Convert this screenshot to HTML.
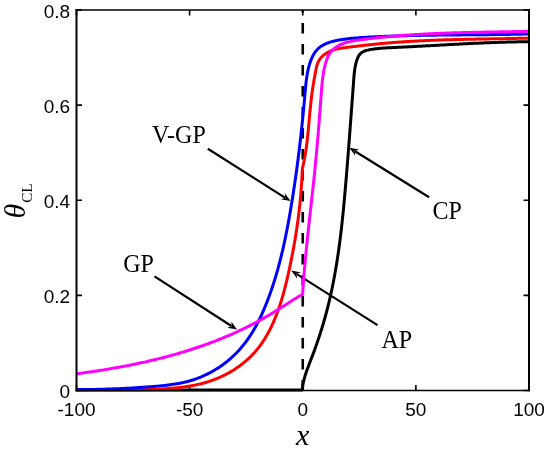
<!DOCTYPE html>
<html><head><meta charset="utf-8"><title>plot</title>
<style>html,body{margin:0;padding:0;background:#fff;width:550px;height:455px;overflow:hidden}svg{display:block}</style>
</head><body>
<svg width="550" height="455" viewBox="0 0 550 455">
<rect width="550" height="455" fill="#fff"/>
<path d="M76.50 390.50 V385.00 M76.50 10.00 V15.50 M189.62 390.50 V385.00 M189.62 10.00 V15.50 M302.75 390.50 V385.00 M302.75 10.00 V15.50 M415.88 390.50 V385.00 M415.88 10.00 V15.50 M529.00 390.50 V385.00 M529.00 10.00 V15.50 M76.50 390.50 H82.00 M529.00 390.50 H523.50 M76.50 295.38 H82.00 M529.00 295.38 H523.50 M76.50 200.25 H82.00 M529.00 200.25 H523.50 M76.50 105.13 H82.00 M529.00 105.13 H523.50 M76.50 10.00 H82.00 M529.00 10.00 H523.50" stroke="#000" stroke-width="1.6" fill="none"/>
<line x1="302.75" y1="390.50" x2="302.75" y2="10.00" stroke="#000" stroke-width="2.6" stroke-dasharray="10.5 10.5"/>
<line x1="207.80" y1="148.70" x2="284.92" y2="197.57" stroke="#000" stroke-width="2.2"/><path d="M290.50 201.10 L280.75 199.30 L285.35 197.84 L284.71 193.05 Z" fill="#000"/>
<line x1="154.50" y1="276.40" x2="231.45" y2="326.02" stroke="#000" stroke-width="2.2"/><path d="M237.00 329.60 L227.26 327.72 L231.87 326.29 L231.27 321.50 Z" fill="#000"/>
<line x1="377.50" y1="325.10" x2="296.88" y2="274.13" stroke="#000" stroke-width="2.2"/><path d="M291.30 270.60 L301.05 272.39 L296.46 273.86 L297.10 278.64 Z" fill="#000"/>
<line x1="429.10" y1="197.30" x2="355.01" y2="151.28" stroke="#000" stroke-width="2.2"/><path d="M349.40 147.80 L359.17 149.51 L354.58 151.02 L355.26 155.80 Z" fill="#000"/>
<g fill="none" stroke-width="3.0" stroke-linejoin="round" stroke-linecap="butt">
<path d="M76.50 389.90 H302.80" stroke="#000"/>
<path d="M302.30 390.29 L302.39 389.08 L302.50 387.86 L302.64 386.65 L302.82 385.43 L303.02 384.22 L303.25 383.00 L303.51 381.79 L303.79 380.57 L304.09 379.35 L304.41 378.14 L304.76 376.92 L305.12 375.70 L305.50 374.48 L305.89 373.26 L306.30 372.04 L306.72 370.82 L307.15 369.59 L307.60 368.37 L308.05 367.15 L308.51 365.92 L308.97 364.70 L309.44 363.47 L309.92 362.25 L310.39 361.02 L310.87 359.79 L311.34 358.57 L311.81 357.34 L312.28 356.11 L312.75 354.88 L313.21 353.65 L313.66 352.42 L314.12 351.19 L314.57 349.96 L315.02 348.73 L315.46 347.49 L315.90 346.26 L316.33 345.03 L316.77 343.79 L317.19 342.56 L317.62 341.32 L318.04 340.09 L318.46 338.85 L318.87 337.61 L319.28 336.38 L319.68 335.14 L320.08 333.90 L320.48 332.66 L320.87 331.42 L321.26 330.18 L321.65 328.94 L322.03 327.70 L322.41 326.46 L322.78 325.22 L323.15 323.97 L323.52 322.73 L323.88 321.49 L324.24 320.24 L324.59 319.00 L324.94 317.75 L325.29 316.51 L325.63 315.26 L325.97 314.02 L326.30 312.77 L326.63 311.52 L326.95 310.27 L327.28 309.02 L327.59 307.77 L327.91 306.52 L328.22 305.27 L328.53 304.02 L328.83 302.77 L329.13 301.52 L329.42 300.27 L329.72 299.02 L330.01 297.76 L330.29 296.51 L330.57 295.26 L330.85 294.00 L331.13 292.75 L331.40 291.49 L331.67 290.24 L331.93 288.98 L332.19 287.73 L332.45 286.47 L332.71 285.21 L332.96 283.95 L333.21 282.69 L333.46 281.44 L333.70 280.18 L333.94 278.92 L334.18 277.66 L334.41 276.40 L334.64 275.14 L334.87 273.87 L335.09 272.61 L335.32 271.35 L335.54 270.09 L335.75 268.83 L335.97 267.56 L336.18 266.30 L336.39 265.03 L336.59 263.77 L336.80 262.50 L337.00 261.24 L337.20 259.97 L337.39 258.71 L337.59 257.44 L337.78 256.17 L337.97 254.91 L338.15 253.64 L338.34 252.37 L338.52 251.10 L338.70 249.83 L338.88 248.56 L339.05 247.29 L339.23 246.02 L339.40 244.75 L339.57 243.48 L339.73 242.21 L339.90 240.94 L340.06 239.67 L340.22 238.40 L340.38 237.12 L340.54 235.85 L340.69 234.58 L340.85 233.30 L341.00 232.03 L341.15 230.76 L341.30 229.48 L341.44 228.21 L341.59 226.93 L341.73 225.66 L341.87 224.38 L342.01 223.10 L342.15 221.83 L342.29 220.55 L342.42 219.27 L342.56 218.00 L342.69 216.72 L342.82 215.44 L342.95 214.16 L343.08 212.88 L343.21 211.60 L343.34 210.32 L343.46 209.04 L343.59 207.76 L343.71 206.48 L343.83 205.20 L343.95 203.92 L344.07 202.64 L344.19 201.36 L344.31 200.08 L344.43 198.79 L344.54 197.51 L344.66 196.23 L344.77 194.95 L344.89 193.66 L345.00 192.38 L345.11 191.10 L345.22 189.81 L345.33 188.53 L345.44 187.24 L345.55 185.96 L345.66 184.67 L345.77 183.39 L345.88 182.10 L345.99 180.82 L346.10 179.53 L346.20 178.24 L346.31 176.96 L346.42 175.67 L346.52 174.38 L346.63 173.10 L346.73 171.81 L346.84 170.52 L346.94 169.23 L347.05 167.94 L347.15 166.66 L347.26 165.37 L347.36 164.08 L347.46 162.79 L347.56 161.50 L347.67 160.21 L347.77 158.92 L347.87 157.63 L347.97 156.35 L348.07 155.06 L348.17 153.77 L348.28 152.48 L348.38 151.19 L348.48 149.90 L348.58 148.61 L348.68 147.32 L348.78 146.03 L348.87 144.74 L348.97 143.45 L349.07 142.16 L349.17 140.87 L349.27 139.58 L349.37 138.29 L349.47 137.00 L349.56 135.71 L349.66 134.43 L349.76 133.14 L349.86 131.85 L349.95 130.56 L350.05 129.27 L350.15 127.98 L350.24 126.69 L350.34 125.40 L350.44 124.12 L350.53 122.83 L350.63 121.54 L350.72 120.25 L350.82 118.97 L350.92 117.68 L351.01 116.39 L351.11 115.10 L351.20 113.82 L351.30 112.53 L351.39 111.25 L351.49 109.96 L351.58 108.67 L351.68 107.39 L351.77 106.10 L351.87 104.82 L351.96 103.53 L352.06 102.25 L352.15 100.97 L352.25 99.68 L352.34 98.40 L352.44 97.12 L352.53 95.84 L352.62 94.55 L352.72 93.27 L352.81 91.99 L352.91 90.71 L353.00 89.43 L353.10 88.15 L353.19 86.87 L353.29 85.59 L353.38 84.31 L353.48 83.03 L353.57 81.76 L353.67 80.48 L353.76 79.20 L353.86 77.93 L353.96 76.65 L354.07 75.37 L354.19 74.10 L354.32 72.82 L354.46 71.54 L354.62 70.26 L354.81 68.98 L355.01 67.69 L355.25 66.41 L355.51 65.12 L355.80 63.83 L356.13 62.53 L356.49 61.24 L356.90 59.95 L357.36 58.69 L357.87 57.48 L358.45 56.32 L359.10 55.25 L359.83 54.27 L360.64 53.40 L361.53 52.64 L362.50 52.00 L363.53 51.46 L364.61 51.03 L365.73 50.67 L366.88 50.36 L368.06 50.09 L369.25 49.84 L370.45 49.60 L371.67 49.39 L372.90 49.19 L374.15 49.01 L375.40 48.84 L376.67 48.69 L377.94 48.55 L379.22 48.42 L380.51 48.31 L381.81 48.20 L383.12 48.10 L384.43 48.01 L385.74 47.93 L387.06 47.85 L388.38 47.78 L389.70 47.71 L391.03 47.65 L392.35 47.59 L393.68 47.53 L395.00 47.47 L396.32 47.41 L397.64 47.34 L398.96 47.28 L400.28 47.22 L401.59 47.16 L402.90 47.09 L404.22 47.03 L405.53 46.96 L406.84 46.90 L408.14 46.83 L409.45 46.76 L410.75 46.70 L412.06 46.63 L413.36 46.56 L414.66 46.49 L415.96 46.43 L417.25 46.36 L418.55 46.29 L419.84 46.22 L421.14 46.15 L422.43 46.08 L423.72 46.01 L425.01 45.94 L426.30 45.87 L427.59 45.80 L428.88 45.73 L430.17 45.66 L431.45 45.59 L432.74 45.52 L434.02 45.45 L435.30 45.38 L436.59 45.31 L437.87 45.24 L439.15 45.17 L440.43 45.10 L441.71 45.03 L442.99 44.96 L444.27 44.89 L445.55 44.82 L446.82 44.75 L448.10 44.68 L449.38 44.61 L450.65 44.54 L451.93 44.47 L453.20 44.41 L454.48 44.34 L455.75 44.27 L457.03 44.20 L458.30 44.14 L459.58 44.07 L460.85 44.00 L462.12 43.94 L463.40 43.87 L464.67 43.81 L465.94 43.75 L467.22 43.68 L468.49 43.62 L469.76 43.56 L471.04 43.50 L472.31 43.43 L473.59 43.37 L474.86 43.31 L476.14 43.26 L477.41 43.20 L478.69 43.14 L479.96 43.08 L481.24 43.03 L482.51 42.97 L483.79 42.92 L485.07 42.86 L486.34 42.81 L487.62 42.76 L488.90 42.71 L490.18 42.66 L491.46 42.61 L492.74 42.56 L494.02 42.51 L495.30 42.47 L496.59 42.42 L497.87 42.38 L499.16 42.34 L500.44 42.29 L501.73 42.25 L503.01 42.21 L504.30 42.18 L505.59 42.14 L506.88 42.10 L508.17 42.07 L509.46 42.04 L510.76 42.00 L512.05 41.97 L513.35 41.94 L514.65 41.92 L515.94 41.89 L517.24 41.86 L518.54 41.84 L519.85 41.82 L521.15 41.80 L522.45 41.78 L523.76 41.76 L525.07 41.74 L526.38 41.73 L527.69 41.71 L529.00 41.70" stroke="#000"/>
<path d="M76.50 390.20 L77.41 390.17 L78.32 390.13 L79.23 390.10 L80.14 390.07 L81.05 390.04 L81.97 390.01 L82.89 389.99 L83.81 389.96 L84.73 389.94 L85.65 389.92 L86.57 389.90 L87.50 389.88 L88.43 389.86 L89.36 389.85 L90.29 389.84 L91.22 389.82 L92.15 389.81 L93.09 389.80 L94.03 389.79 L94.96 389.78 L95.90 389.77 L96.85 389.77 L97.79 389.76 L98.73 389.75 L99.68 389.75 L100.62 389.75 L101.57 389.74 L102.52 389.74 L103.47 389.74 L104.42 389.74 L105.37 389.74 L106.33 389.74 L107.28 389.74 L108.23 389.74 L109.19 389.74 L110.15 389.74 L111.11 389.74 L112.07 389.74 L113.03 389.74 L113.99 389.74 L114.95 389.75 L115.91 389.75 L116.87 389.75 L117.84 389.75 L118.80 389.75 L119.77 389.75 L120.73 389.75 L121.70 389.75 L122.67 389.75 L123.63 389.75 L124.60 389.75 L125.57 389.75 L126.54 389.75 L127.51 389.75 L128.48 389.75 L129.45 389.74 L130.42 389.74 L131.39 389.73 L132.36 389.73 L133.34 389.72 L134.31 389.71 L135.28 389.70 L136.25 389.69 L137.22 389.68 L138.20 389.67 L139.17 389.66 L140.14 389.65 L141.12 389.63 L142.09 389.61 L143.06 389.60 L144.03 389.58 L145.01 389.56 L145.98 389.53 L146.95 389.51 L147.92 389.49 L148.90 389.46 L149.87 389.43 L150.84 389.40 L151.81 389.37 L152.78 389.33 L153.75 389.30 L154.72 389.26 L155.69 389.22 L156.66 389.18 L157.63 389.14 L158.60 389.09 L159.57 389.04 L160.53 388.99 L161.50 388.94 L162.47 388.89 L163.43 388.83 L164.40 388.77 L165.36 388.71 L166.32 388.65 L167.29 388.58 L168.25 388.51 L169.21 388.44 L170.17 388.37 L171.13 388.29 L172.09 388.21 L173.05 388.13 L174.00 388.04 L174.96 387.96 L175.91 387.86 L176.87 387.77 L177.82 387.67 L178.77 387.57 L179.72 387.46 L180.67 387.35 L181.62 387.24 L182.56 387.12 L183.51 386.99 L184.45 386.87 L185.40 386.74 L186.34 386.60 L187.28 386.46 L188.22 386.31 L189.16 386.16 L190.09 386.01 L191.03 385.84 L191.96 385.68 L192.89 385.51 L193.82 385.33 L194.75 385.14 L195.68 384.96 L196.60 384.76 L197.52 384.56 L198.45 384.35 L199.37 384.14 L200.28 383.92 L201.20 383.69 L202.12 383.46 L203.03 383.22 L203.94 382.97 L204.85 382.72 L205.75 382.46 L206.66 382.19 L207.56 381.91 L208.46 381.63 L209.36 381.34 L210.26 381.04 L211.15 380.73 L212.05 380.42 L212.94 380.10 L213.82 379.77 L214.71 379.43 L215.59 379.09 L216.47 378.74 L217.35 378.38 L218.22 378.01 L219.09 377.64 L219.96 377.25 L220.82 376.87 L221.68 376.47 L222.54 376.07 L223.39 375.66 L224.24 375.24 L225.09 374.81 L225.93 374.38 L226.77 373.94 L227.61 373.49 L228.44 373.04 L229.27 372.58 L230.09 372.11 L230.91 371.63 L231.72 371.15 L232.53 370.66 L233.34 370.16 L234.14 369.65 L234.94 369.14 L235.73 368.62 L236.51 368.09 L237.30 367.56 L238.07 367.02 L238.84 366.47 L239.61 365.92 L240.37 365.36 L241.13 364.79 L241.88 364.21 L242.62 363.63 L243.36 363.04 L244.09 362.44 L244.82 361.84 L245.54 361.23 L246.26 360.61 L246.97 359.99 L247.67 359.36 L248.37 358.72 L249.06 358.08 L249.74 357.42 L250.42 356.77 L251.09 356.10 L251.76 355.43 L252.41 354.75 L253.06 354.07 L253.71 353.37 L254.35 352.68 L254.97 351.97 L255.60 351.26 L256.21 350.54 L256.82 349.82 L257.42 349.08 L258.01 348.35 L258.60 347.60 L259.18 346.85 L259.75 346.09 L260.31 345.33 L260.87 344.56 L261.42 343.79 L261.96 343.01 L262.50 342.22 L263.02 341.43 L263.55 340.64 L264.06 339.84 L264.57 339.03 L265.07 338.22 L265.57 337.41 L266.06 336.59 L266.54 335.76 L267.02 334.93 L267.49 334.10 L267.95 333.26 L268.41 332.42 L268.86 331.58 L269.31 330.73 L269.75 329.88 L270.19 329.03 L270.61 328.17 L271.04 327.31 L271.45 326.44 L271.87 325.57 L272.27 324.70 L272.67 323.83 L273.07 322.96 L273.46 322.08 L273.84 321.20 L274.22 320.32 L274.60 319.43 L274.96 318.55 L275.33 317.66 L275.69 316.77 L276.04 315.88 L276.39 314.99 L276.74 314.09 L277.08 313.20 L277.41 312.30 L277.74 311.40 L278.07 310.50 L278.39 309.59 L278.71 308.69 L279.02 307.78 L279.33 306.88 L279.64 305.97 L279.94 305.06 L280.24 304.15 L280.53 303.23 L280.82 302.32 L281.11 301.40 L281.39 300.49 L281.67 299.57 L281.95 298.65 L282.22 297.73 L282.49 296.81 L282.75 295.89 L283.02 294.97 L283.28 294.04 L283.53 293.12 L283.79 292.20 L284.04 291.27 L284.28 290.34 L284.53 289.42 L284.77 288.49 L285.01 287.56 L285.25 286.63 L285.48 285.70 L285.71 284.77 L285.94 283.84 L286.17 282.91 L286.40 281.97 L286.62 281.04 L286.84 280.11 L287.06 279.18 L287.28 278.24 L287.49 277.31 L287.71 276.38 L287.92 275.44 L288.13 274.51 L288.34 273.58 L288.55 272.64 L288.75 271.71 L288.96 270.77 L289.16 269.84 L289.36 268.91 L289.56 267.97 L289.76 267.04 L289.96 266.11 L290.16 265.17 L290.35 264.24 L290.55 263.30 L290.74 262.37 L290.93 261.44 L291.12 260.50 L291.31 259.57 L291.50 258.64 L291.69 257.70 L291.87 256.77 L292.05 255.83 L292.24 254.90 L292.42 253.97 L292.60 253.03 L292.77 252.10 L292.95 251.16 L293.13 250.23 L293.30 249.29 L293.47 248.36 L293.64 247.42 L293.81 246.49 L293.98 245.56 L294.15 244.62 L294.31 243.69 L294.47 242.75 L294.64 241.81 L294.80 240.88 L294.96 239.94 L295.11 239.01 L295.27 238.07 L295.42 237.14 L295.58 236.20 L295.73 235.26 L295.88 234.33 L296.03 233.39 L296.17 232.45 L296.32 231.52 L296.46 230.58 L296.61 229.64 L296.75 228.70 L296.89 227.77 L297.02 226.83 L297.16 225.89 L297.30 224.95 L297.43 224.01 L297.56 223.07 L297.69 222.13 L297.82 221.20 L297.95 220.26 L298.07 219.32 L298.20 218.38 L298.32 217.44 L298.44 216.49 L298.56 215.55 L298.67 214.61 L298.79 213.67 L298.90 212.73 L299.02 211.79 L299.13 210.84 L299.24 209.90 L299.34 208.96 L299.45 208.02 L299.55 207.07 L299.66 206.13 L299.76 205.18 L299.86 204.24 L299.96 203.29 L300.05 202.35 L300.15 201.40 L300.24 200.46 L300.33 199.51 L300.42 198.56 L300.50 197.62 L300.59 196.67 L300.67 195.72 L300.76 194.77 L300.84 193.82 L300.92 192.87 L300.99 191.92 L301.07 190.97 L301.14 190.02 L301.21 189.07 L301.28 188.12 L301.35 187.17 L301.42 186.22 L301.48 185.27 L301.54 184.31 L301.61 183.36 L301.67 182.41 L301.72 181.45 L301.78 180.50 L301.83 179.54 L301.88 178.59 L301.93 177.63 L301.98 176.67 L302.03 175.71 L302.07 174.76 L302.12 173.80 L302.16 172.84 L302.20 171.88 L302.23 170.92 L302.27 169.96 L302.30 169.00 L302.30 169.00 L302.50 168.19 L302.69 167.39 L302.87 166.58 L303.05 165.77 L303.23 164.96 L303.41 164.16 L303.58 163.35 L303.75 162.55 L303.91 161.74 L304.07 160.94 L304.23 160.14 L304.38 159.33 L304.53 158.53 L304.68 157.73 L304.82 156.93 L304.96 156.12 L305.10 155.32 L305.23 154.52 L305.36 153.72 L305.49 152.92 L305.62 152.12 L305.74 151.32 L305.86 150.52 L305.98 149.72 L306.10 148.92 L306.21 148.12 L306.32 147.32 L306.43 146.52 L306.53 145.72 L306.64 144.92 L306.74 144.12 L306.84 143.32 L306.94 142.53 L307.04 141.73 L307.13 140.93 L307.22 140.13 L307.31 139.33 L307.40 138.53 L307.49 137.73 L307.58 136.93 L307.66 136.13 L307.75 135.33 L307.83 134.53 L307.91 133.74 L307.99 132.94 L308.07 132.14 L308.15 131.34 L308.23 130.53 L308.30 129.73 L308.38 128.93 L308.45 128.13 L308.53 127.33 L308.60 126.53 L308.68 125.73 L308.75 124.93 L308.82 124.12 L308.90 123.32 L308.97 122.52 L309.04 121.71 L309.11 120.91 L309.18 120.10 L309.26 119.30 L309.33 118.49 L309.40 117.69 L309.47 116.88 L309.55 116.07 L309.62 115.27 L309.70 114.46 L309.77 113.65 L309.85 112.84 L309.92 112.03 L310.00 111.22 L310.08 110.41 L310.16 109.60 L310.23 108.78 L310.32 107.97 L310.40 107.16 L310.48 106.34 L310.56 105.53 L310.65 104.71 L310.74 103.89 L310.82 103.08 L310.91 102.26 L311.01 101.44 L311.10 100.62 L311.19 99.80 L311.29 98.97 L311.39 98.15 L311.49 97.33 L311.59 96.50 L311.70 95.68 L311.80 94.85 L311.91 94.02 L312.02 93.20 L312.14 92.37 L312.25 91.54 L312.37 90.71 L312.49 89.88 L312.61 89.05 L312.73 88.22 L312.86 87.39 L312.98 86.57 L313.11 85.74 L313.24 84.91 L313.37 84.09 L313.51 83.27 L313.64 82.45 L313.78 81.63 L313.91 80.81 L314.05 79.99 L314.19 79.18 L314.33 78.37 L314.48 77.57 L314.62 76.76 L314.77 75.96 L314.91 75.16 L315.06 74.37 L315.21 73.58 L315.36 72.79 L315.51 72.01 L315.66 71.23 L315.81 70.46 L315.96 69.69 L316.11 68.93 L316.27 68.17 L316.43 67.41 L316.61 66.66 L316.80 65.92 L317.00 65.18 L317.23 64.45 L317.47 63.73 L317.75 63.01 L318.05 62.30 L318.38 61.59 L318.75 60.89 L319.16 60.20 L319.61 59.52 L320.09 58.85 L320.61 58.19 L321.16 57.55 L321.73 56.93 L322.33 56.32 L322.96 55.74 L323.61 55.19 L324.27 54.66 L324.95 54.16 L325.65 53.68 L326.35 53.22 L327.07 52.79 L327.79 52.39 L328.52 52.00 L329.25 51.64 L329.98 51.30 L330.72 50.98 L331.46 50.68 L332.20 50.40 L332.94 50.14 L333.69 49.90 L334.44 49.67 L335.20 49.46 L335.95 49.26 L336.71 49.07 L337.47 48.89 L338.23 48.73 L339.00 48.58 L339.77 48.44 L340.54 48.30 L341.31 48.18 L342.09 48.05 L342.87 47.94 L343.65 47.83 L344.43 47.72 L345.21 47.62 L346.00 47.52 L346.79 47.42 L347.58 47.32 L348.37 47.22 L349.16 47.12 L349.96 47.02 L350.75 46.92 L351.55 46.82 L352.35 46.72 L353.16 46.63 L353.96 46.53 L354.77 46.43 L355.57 46.33 L356.38 46.24 L357.19 46.14 L358.00 46.04 L358.81 45.95 L359.62 45.85 L360.44 45.76 L361.25 45.67 L362.07 45.57 L362.89 45.48 L363.70 45.39 L364.52 45.29 L365.34 45.20 L366.16 45.11 L366.98 45.02 L367.81 44.93 L368.63 44.84 L369.45 44.76 L370.27 44.67 L371.10 44.58 L371.92 44.49 L372.75 44.41 L373.57 44.32 L374.40 44.24 L375.22 44.16 L376.05 44.07 L376.87 43.99 L377.70 43.91 L378.52 43.83 L379.35 43.75 L380.18 43.67 L381.00 43.59 L381.83 43.52 L382.65 43.44 L383.48 43.37 L384.30 43.29 L385.12 43.22 L385.95 43.15 L386.77 43.07 L387.59 43.00 L388.42 42.93 L389.24 42.86 L390.06 42.80 L390.88 42.73 L391.70 42.66 L392.52 42.60 L393.34 42.53 L394.16 42.47 L394.98 42.41 L395.80 42.34 L396.62 42.28 L397.44 42.22 L398.26 42.16 L399.07 42.10 L399.89 42.05 L400.71 41.99 L401.53 41.93 L402.34 41.88 L403.16 41.82 L403.98 41.77 L404.79 41.71 L405.61 41.66 L406.42 41.61 L407.24 41.56 L408.05 41.51 L408.87 41.46 L409.68 41.41 L410.49 41.36 L411.31 41.31 L412.12 41.26 L412.93 41.22 L413.75 41.17 L414.56 41.13 L415.37 41.08 L416.18 41.04 L417.00 41.00 L417.81 40.95 L418.62 40.91 L419.43 40.87 L420.24 40.83 L421.05 40.79 L421.86 40.75 L422.68 40.71 L423.49 40.67 L424.30 40.64 L425.11 40.60 L425.92 40.56 L426.73 40.53 L427.54 40.49 L428.35 40.46 L429.15 40.42 L429.96 40.39 L430.77 40.36 L431.58 40.32 L432.39 40.29 L433.20 40.26 L434.01 40.23 L434.82 40.20 L435.62 40.17 L436.43 40.14 L437.24 40.11 L438.05 40.08 L438.86 40.05 L439.66 40.02 L440.47 40.00 L441.28 39.97 L442.09 39.94 L442.89 39.92 L443.70 39.89 L444.51 39.87 L445.32 39.84 L446.12 39.82 L446.93 39.79 L447.74 39.77 L448.55 39.75 L449.35 39.72 L450.16 39.70 L450.97 39.68 L451.77 39.66 L452.58 39.63 L453.39 39.61 L454.19 39.59 L455.00 39.57 L455.81 39.55 L456.62 39.53 L457.42 39.51 L458.23 39.49 L459.04 39.47 L459.84 39.45 L460.65 39.43 L461.46 39.42 L462.26 39.40 L463.07 39.38 L463.88 39.36 L464.69 39.34 L465.49 39.33 L466.30 39.31 L467.11 39.29 L467.92 39.28 L468.72 39.26 L469.53 39.24 L470.34 39.23 L471.15 39.21 L471.95 39.20 L472.76 39.18 L473.57 39.17 L474.38 39.15 L475.19 39.14 L476.00 39.12 L476.80 39.11 L477.61 39.09 L478.42 39.08 L479.23 39.06 L480.04 39.05 L480.85 39.03 L481.66 39.02 L482.47 39.01 L483.28 38.99 L484.09 38.98 L484.90 38.96 L485.71 38.95 L486.52 38.94 L487.33 38.92 L488.14 38.91 L488.95 38.89 L489.76 38.88 L490.57 38.87 L491.38 38.85 L492.19 38.84 L493.01 38.83 L493.82 38.81 L494.63 38.80 L495.44 38.78 L496.26 38.77 L497.07 38.76 L497.88 38.74 L498.69 38.73 L499.51 38.71 L500.32 38.70 L501.14 38.69 L501.95 38.67 L502.77 38.66 L503.58 38.64 L504.40 38.63 L505.21 38.61 L506.03 38.60 L506.84 38.58 L507.66 38.57 L508.48 38.55 L509.29 38.54 L510.11 38.52 L510.93 38.51 L511.75 38.49 L512.56 38.47 L513.38 38.46 L514.20 38.44 L515.02 38.42 L515.84 38.41 L516.66 38.39 L517.48 38.37 L518.30 38.35 L519.12 38.34 L519.94 38.32 L520.76 38.30 L521.59 38.28 L522.41 38.26 L523.23 38.24 L524.05 38.22 L524.88 38.20 L525.70 38.18 L526.53 38.16 L527.35 38.14 L528.18 38.12 L529.00 38.10" stroke="#f00"/>
<path d="M76.50 389.60 L78.22 389.59 L79.94 389.59 L81.67 389.57 L83.40 389.56 L85.14 389.54 L86.88 389.52 L88.62 389.50 L90.37 389.47 L92.11 389.45 L93.87 389.41 L95.62 389.38 L97.38 389.34 L99.14 389.30 L100.90 389.26 L102.67 389.21 L104.43 389.16 L106.20 389.11 L107.97 389.06 L109.75 389.00 L111.52 388.93 L113.29 388.87 L115.07 388.80 L116.85 388.73 L118.63 388.65 L120.40 388.58 L122.18 388.49 L123.96 388.41 L125.74 388.32 L127.52 388.23 L129.30 388.13 L131.08 388.04 L132.86 387.93 L134.64 387.83 L136.42 387.72 L138.19 387.61 L139.97 387.49 L141.74 387.37 L143.51 387.25 L145.29 387.12 L147.06 386.99 L148.82 386.86 L150.59 386.72 L152.35 386.58 L154.11 386.43 L155.87 386.28 L157.63 386.13 L159.38 385.97 L161.13 385.81 L162.88 385.63 L164.62 385.45 L166.36 385.26 L168.10 385.05 L169.83 384.83 L171.56 384.60 L173.28 384.35 L175.00 384.09 L176.72 383.81 L178.43 383.51 L180.14 383.19 L181.84 382.84 L183.54 382.48 L185.23 382.08 L186.91 381.67 L188.59 381.23 L190.27 380.75 L191.94 380.25 L193.60 379.72 L195.26 379.16 L196.91 378.57 L198.55 377.96 L200.18 377.31 L201.81 376.63 L203.42 375.93 L205.02 375.19 L206.62 374.43 L208.20 373.64 L209.77 372.83 L211.33 371.99 L212.88 371.12 L214.41 370.23 L215.93 369.31 L217.43 368.37 L218.92 367.41 L220.39 366.42 L221.85 365.40 L223.28 364.36 L224.71 363.30 L226.11 362.22 L227.49 361.12 L228.86 359.99 L230.20 358.84 L231.53 357.67 L232.83 356.48 L234.11 355.27 L235.37 354.04 L236.61 352.79 L237.82 351.52 L239.01 350.24 L240.17 348.93 L241.32 347.61 L242.44 346.27 L243.54 344.91 L244.62 343.53 L245.67 342.14 L246.71 340.74 L247.72 339.32 L248.72 337.88 L249.69 336.43 L250.65 334.97 L251.59 333.49 L252.51 332.00 L253.41 330.50 L254.29 328.99 L255.16 327.46 L256.01 325.92 L256.84 324.38 L257.66 322.82 L258.46 321.25 L259.25 319.68 L260.02 318.09 L260.78 316.50 L261.53 314.90 L262.26 313.29 L262.97 311.68 L263.68 310.06 L264.37 308.43 L265.05 306.80 L265.72 305.16 L266.38 303.52 L267.03 301.87 L267.66 300.22 L268.29 298.57 L268.91 296.91 L269.52 295.25 L270.12 293.59 L270.70 291.93 L271.28 290.26 L271.86 288.59 L272.42 286.91 L272.97 285.24 L273.52 283.56 L274.05 281.88 L274.58 280.19 L275.10 278.51 L275.61 276.82 L276.11 275.13 L276.61 273.44 L277.10 271.74 L277.58 270.04 L278.05 268.34 L278.51 266.64 L278.97 264.94 L279.42 263.23 L279.87 261.53 L280.30 259.82 L280.73 258.11 L281.16 256.40 L281.57 254.68 L281.98 252.97 L282.39 251.25 L282.79 249.54 L283.18 247.82 L283.57 246.10 L283.95 244.38 L284.32 242.65 L284.69 240.93 L285.06 239.21 L285.42 237.48 L285.77 235.76 L286.12 234.03 L286.47 232.30 L286.81 230.57 L287.14 228.85 L287.47 227.12 L287.80 225.39 L288.12 223.66 L288.44 221.93 L288.76 220.20 L289.07 218.47 L289.38 216.74 L289.68 215.01 L289.98 213.28 L290.28 211.54 L290.57 209.81 L290.86 208.08 L291.15 206.35 L291.44 204.62 L291.72 202.90 L292.00 201.17 L292.28 199.44 L292.56 197.71 L292.83 195.98 L293.10 194.25 L293.37 192.52 L293.63 190.79 L293.89 189.07 L294.16 187.34 L294.41 185.61 L294.67 183.88 L294.92 182.15 L295.17 180.42 L295.42 178.69 L295.67 176.96 L295.91 175.23 L296.15 173.50 L296.39 171.77 L296.63 170.04 L296.86 168.31 L297.09 166.57 L297.32 164.84 L297.55 163.10 L297.78 161.37 L298.00 159.63 L298.22 157.90 L298.44 156.16 L298.66 154.42 L298.87 152.68 L299.08 150.94 L299.29 149.20 L299.50 147.45 L299.71 145.71 L299.91 143.97 L300.12 142.22 L300.32 140.47 L300.52 138.72 L300.71 136.97 L300.91 135.22 L301.10 133.47 L301.29 131.71 L301.48 129.96 L301.67 128.20 L301.86 126.44 L302.04 124.68 L302.23 122.91 L302.41 121.15 L302.59 119.38 L302.76 117.61 L302.94 115.84 L303.11 114.07 L303.29 112.30 L303.46 110.52 L303.63 108.74 L303.80 106.96 L303.96 105.18 L304.13 103.40 L304.29 101.61 L304.45 99.82 L304.61 98.03 L304.77 96.23 L304.93 94.44 L305.09 92.64 L305.24 90.84 L305.41 89.04 L305.57 87.24 L305.75 85.45 L305.94 83.66 L306.14 81.88 L306.36 80.10 L306.59 78.34 L306.85 76.58 L307.12 74.83 L307.43 73.10 L307.76 71.38 L308.12 69.68 L308.51 67.99 L308.94 66.33 L309.40 64.68 L309.91 63.05 L310.45 61.45 L311.04 59.87 L311.68 58.32 L312.38 56.80 L313.13 55.32 L313.96 53.88 L314.86 52.50 L315.85 51.18 L316.92 49.93 L318.09 48.74 L319.34 47.64 L320.68 46.62 L322.09 45.69 L323.57 44.84 L325.12 44.07 L326.72 43.37 L328.37 42.74 L330.07 42.17 L331.80 41.65 L333.56 41.19 L335.35 40.77 L337.16 40.40 L338.97 40.06 L340.79 39.75 L342.61 39.47 L344.42 39.22 L346.21 38.98 L348.00 38.76 L349.78 38.55 L351.55 38.36 L353.31 38.19 L355.07 38.03 L356.82 37.88 L358.57 37.75 L360.31 37.62 L362.05 37.50 L363.78 37.39 L365.52 37.29 L367.25 37.19 L368.99 37.10 L370.72 37.01 L372.46 36.92 L374.20 36.83 L375.94 36.75 L377.68 36.67 L379.42 36.59 L381.16 36.52 L382.91 36.44 L384.65 36.37 L386.40 36.31 L388.15 36.24 L389.90 36.18 L391.64 36.12 L393.40 36.06 L395.15 36.00 L396.90 35.94 L398.65 35.89 L400.41 35.84 L402.16 35.79 L403.92 35.74 L405.67 35.69 L407.43 35.65 L409.19 35.61 L410.95 35.57 L412.70 35.53 L414.46 35.49 L416.22 35.45 L417.99 35.42 L419.75 35.38 L421.51 35.35 L423.27 35.32 L425.04 35.29 L426.80 35.26 L428.56 35.23 L430.33 35.21 L432.09 35.18 L433.86 35.16 L435.62 35.13 L437.39 35.11 L439.16 35.09 L440.92 35.07 L442.69 35.05 L444.46 35.03 L446.22 35.01 L447.99 34.99 L449.76 34.98 L451.53 34.96 L453.29 34.94 L455.06 34.93 L456.83 34.91 L458.60 34.89 L460.36 34.88 L462.13 34.86 L463.90 34.85 L465.67 34.84 L467.43 34.82 L469.20 34.81 L470.97 34.79 L472.73 34.78 L474.50 34.76 L476.27 34.75 L478.03 34.73 L479.80 34.72 L481.56 34.70 L483.33 34.69 L485.09 34.67 L486.86 34.65 L488.62 34.64 L490.38 34.62 L492.15 34.60 L493.91 34.58 L495.67 34.56 L497.43 34.54 L499.19 34.52 L500.95 34.50 L502.71 34.48 L504.47 34.45 L506.23 34.43 L507.98 34.40 L509.74 34.38 L511.49 34.35 L513.25 34.32 L515.00 34.29 L516.76 34.26 L518.51 34.23 L520.26 34.19 L522.01 34.16 L523.76 34.12 L525.51 34.08 L527.25 34.04 L529.00 34.00" stroke="#00f"/>
<path d="M76.50 373.81 L78.76 373.51 L81.03 373.21 L83.29 372.90 L85.55 372.59 L87.81 372.27 L90.08 371.94 L92.34 371.61 L94.60 371.27 L96.86 370.93 L99.12 370.58 L101.39 370.22 L103.65 369.86 L105.91 369.49 L108.18 369.11 L110.44 368.73 L112.70 368.34 L114.96 367.94 L117.22 367.54 L119.49 367.13 L121.75 366.71 L124.01 366.28 L126.28 365.85 L128.54 365.41 L130.80 364.96 L133.06 364.50 L135.32 364.04 L137.59 363.57 L139.85 363.08 L142.11 362.59 L144.38 362.10 L146.64 361.59 L148.90 361.07 L151.16 360.54 L153.43 360.01 L155.69 359.46 L157.95 358.91 L160.21 358.34 L162.47 357.77 L164.74 357.18 L167.00 356.58 L169.26 355.98 L171.52 355.36 L173.79 354.73 L176.05 354.09 L178.31 353.44 L180.57 352.78 L182.84 352.10 L185.10 351.42 L187.36 350.72 L189.62 350.01 L191.89 349.28 L194.15 348.54 L196.41 347.79 L198.68 347.03 L200.94 346.25 L203.20 345.46 L205.46 344.65 L207.72 343.83 L209.99 343.00 L212.25 342.15 L214.51 341.29 L216.78 340.41 L219.04 339.51 L221.30 338.60 L223.56 337.67 L225.83 336.72 L228.09 335.76 L230.35 334.78 L232.61 333.79 L234.88 332.77 L237.14 331.74 L239.40 330.69 L241.66 329.62 L243.93 328.53 L246.19 327.42 L248.45 326.29 L250.71 325.14 L252.97 323.98 L255.24 322.79 L257.50 321.58 L259.76 320.34 L262.02 319.09 L264.29 317.82 L266.55 316.52 L268.81 315.20 L271.07 313.86 L273.34 312.50 L275.60 311.12 L277.86 309.71 L280.12 308.29 L282.39 306.85 L284.65 305.40 L286.91 303.94 L289.17 302.47 L291.44 301.01 L293.70 299.57 L295.96 298.15 L298.23 296.78 L300.49 295.50 L302.75 294.34 L302.60 294.40 L302.67 293.29 L302.73 292.18 L302.80 291.07 L302.88 289.96 L302.95 288.85 L303.02 287.74 L303.10 286.63 L303.18 285.51 L303.25 284.40 L303.33 283.29 L303.42 282.18 L303.50 281.07 L303.58 279.95 L303.67 278.84 L303.75 277.73 L303.84 276.61 L303.93 275.50 L304.02 274.38 L304.11 273.27 L304.20 272.15 L304.30 271.04 L304.39 269.92 L304.49 268.81 L304.58 267.69 L304.68 266.58 L304.78 265.46 L304.88 264.35 L304.98 263.23 L305.08 262.11 L305.18 261.00 L305.29 259.88 L305.39 258.76 L305.50 257.65 L305.60 256.53 L305.71 255.41 L305.82 254.29 L305.93 253.18 L306.04 252.06 L306.15 250.94 L306.26 249.82 L306.37 248.71 L306.48 247.59 L306.59 246.47 L306.71 245.35 L306.82 244.23 L306.94 243.12 L307.05 242.00 L307.17 240.88 L307.28 239.76 L307.40 238.64 L307.52 237.52 L307.64 236.41 L307.75 235.29 L307.87 234.17 L307.99 233.05 L308.11 231.93 L308.23 230.81 L308.35 229.70 L308.48 228.58 L308.60 227.46 L308.72 226.34 L308.84 225.22 L308.96 224.10 L309.09 222.99 L309.21 221.87 L309.33 220.75 L309.46 219.63 L309.58 218.52 L309.70 217.40 L309.83 216.28 L309.95 215.16 L310.07 214.04 L310.20 212.93 L310.32 211.81 L310.45 210.69 L310.57 209.58 L310.70 208.46 L310.82 207.34 L310.94 206.23 L311.07 205.11 L311.19 203.99 L311.32 202.88 L311.44 201.76 L311.56 200.65 L311.69 199.53 L311.81 198.42 L311.93 197.30 L312.06 196.19 L312.18 195.07 L312.30 193.96 L312.42 192.84 L312.55 191.73 L312.67 190.62 L312.79 189.50 L312.91 188.39 L313.03 187.28 L313.15 186.17 L313.27 185.05 L313.39 183.94 L313.51 182.83 L313.63 181.72 L313.75 180.61 L313.86 179.50 L313.98 178.39 L314.10 177.28 L314.21 176.17 L314.33 175.06 L314.44 173.95 L314.56 172.84 L314.67 171.73 L314.78 170.62 L314.89 169.52 L315.01 168.41 L315.12 167.30 L315.23 166.20 L315.34 165.09 L315.44 163.98 L315.55 162.88 L315.66 161.77 L315.76 160.67 L315.87 159.56 L315.97 158.46 L316.08 157.35 L316.18 156.25 L316.28 155.15 L316.39 154.04 L316.49 152.94 L316.59 151.83 L316.69 150.73 L316.79 149.62 L316.89 148.52 L316.99 147.42 L317.08 146.31 L317.18 145.21 L317.28 144.10 L317.38 143.00 L317.47 141.89 L317.57 140.78 L317.66 139.68 L317.76 138.57 L317.85 137.46 L317.94 136.36 L318.04 135.25 L318.13 134.14 L318.22 133.03 L318.31 131.92 L318.40 130.81 L318.49 129.70 L318.58 128.59 L318.67 127.48 L318.76 126.36 L318.85 125.25 L318.94 124.13 L319.03 123.02 L319.12 121.90 L319.21 120.78 L319.29 119.67 L319.38 118.55 L319.47 117.43 L319.56 116.31 L319.64 115.18 L319.73 114.06 L319.82 112.94 L319.90 111.81 L319.99 110.68 L320.07 109.56 L320.16 108.43 L320.24 107.30 L320.33 106.17 L320.41 105.03 L320.50 103.90 L320.58 102.76 L320.66 101.62 L320.75 100.49 L320.83 99.35 L320.92 98.20 L321.00 97.06 L321.08 95.92 L321.17 94.77 L321.25 93.62 L321.34 92.47 L321.42 91.32 L321.51 90.17 L321.60 89.02 L321.69 87.87 L321.79 86.72 L321.88 85.57 L321.99 84.43 L322.10 83.28 L322.21 82.14 L322.33 81.00 L322.46 79.87 L322.59 78.73 L322.73 77.61 L322.88 76.48 L323.04 75.36 L323.21 74.25 L323.39 73.14 L323.57 72.04 L323.77 70.94 L323.98 69.85 L324.21 68.77 L324.44 67.69 L324.69 66.63 L324.95 65.57 L325.23 64.52 L325.52 63.48 L325.83 62.45 L326.15 61.43 L326.49 60.41 L326.84 59.41 L327.22 58.43 L327.62 57.45 L328.06 56.50 L328.53 55.56 L329.03 54.63 L329.58 53.73 L330.18 52.86 L330.83 52.00 L331.54 51.18 L332.29 50.38 L333.09 49.61 L333.92 48.87 L334.79 48.16 L335.69 47.49 L336.62 46.85 L337.56 46.25 L338.53 45.69 L339.50 45.17 L340.50 44.68 L341.51 44.23 L342.53 43.81 L343.57 43.41 L344.62 43.05 L345.67 42.71 L346.74 42.40 L347.82 42.11 L348.91 41.84 L350.01 41.59 L351.11 41.35 L352.22 41.14 L353.33 40.93 L354.45 40.74 L355.57 40.56 L356.70 40.39 L357.82 40.23 L358.95 40.07 L360.08 39.91 L361.21 39.76 L362.34 39.61 L363.46 39.46 L364.59 39.31 L365.72 39.17 L366.84 39.03 L367.97 38.88 L369.09 38.75 L370.22 38.61 L371.34 38.48 L372.47 38.34 L373.59 38.21 L374.71 38.08 L375.84 37.96 L376.96 37.83 L378.08 37.71 L379.20 37.59 L380.33 37.47 L381.45 37.35 L382.57 37.23 L383.69 37.12 L384.81 37.01 L385.93 36.90 L387.05 36.79 L388.17 36.68 L389.29 36.58 L390.41 36.47 L391.53 36.37 L392.65 36.27 L393.77 36.17 L394.89 36.08 L396.00 35.98 L397.12 35.89 L398.24 35.80 L399.36 35.71 L400.48 35.62 L401.59 35.53 L402.71 35.44 L403.83 35.36 L404.94 35.28 L406.06 35.20 L407.18 35.12 L408.29 35.04 L409.41 34.96 L410.52 34.88 L411.64 34.81 L412.75 34.74 L413.87 34.67 L414.99 34.59 L416.10 34.53 L417.22 34.46 L418.33 34.39 L419.45 34.33 L420.56 34.26 L421.67 34.20 L422.79 34.14 L423.90 34.08 L425.02 34.02 L426.13 33.96 L427.25 33.90 L428.36 33.85 L429.47 33.79 L430.59 33.74 L431.70 33.69 L432.81 33.64 L433.93 33.59 L435.04 33.54 L436.16 33.49 L437.27 33.44 L438.38 33.40 L439.50 33.35 L440.61 33.31 L441.72 33.26 L442.84 33.22 L443.95 33.18 L445.06 33.14 L446.18 33.10 L447.29 33.06 L448.40 33.02 L449.52 32.98 L450.63 32.94 L451.75 32.91 L452.86 32.87 L453.97 32.84 L455.09 32.81 L456.20 32.77 L457.32 32.74 L458.43 32.71 L459.54 32.68 L460.66 32.65 L461.77 32.62 L462.89 32.59 L464.00 32.56 L465.12 32.53 L466.23 32.50 L467.35 32.48 L468.46 32.45 L469.58 32.42 L470.69 32.40 L471.81 32.37 L472.92 32.35 L474.04 32.32 L475.15 32.30 L476.27 32.28 L477.39 32.25 L478.50 32.23 L479.62 32.21 L480.73 32.19 L481.85 32.16 L482.97 32.14 L484.09 32.12 L485.20 32.10 L486.32 32.08 L487.44 32.06 L488.56 32.04 L489.68 32.02 L490.79 32.00 L491.91 31.98 L493.03 31.96 L494.15 31.94 L495.27 31.92 L496.39 31.90 L497.51 31.88 L498.63 31.86 L499.75 31.84 L500.87 31.82 L501.99 31.80 L503.11 31.79 L504.24 31.77 L505.36 31.75 L506.48 31.73 L507.60 31.71 L508.73 31.69 L509.85 31.67 L510.97 31.65 L512.10 31.63 L513.22 31.61 L514.35 31.59 L515.47 31.57 L516.60 31.55 L517.72 31.53 L518.85 31.51 L519.98 31.48 L521.10 31.46 L522.23 31.44 L523.36 31.42 L524.48 31.39 L525.61 31.37 L526.74 31.35 L527.87 31.32 L529.00 31.30" stroke="#f0f"/>
</g>
<path d="M75.50 10.00 H530.00 M75.50 390.50 H530.00" stroke="#000" stroke-width="1.5" fill="none"/>
<path d="M76.50 9.25 V391.25 M529.00 9.25 V391.25" stroke="#000" stroke-width="2" fill="none"/>
<g font-family="Liberation Sans, Arial, sans-serif" font-size="19" fill="#000">
<text x="76.50" y="415.6" text-anchor="middle">-100</text>
<text x="189.62" y="415.6" text-anchor="middle">-50</text>
<text x="302.75" y="415.6" text-anchor="middle">0</text>
<text x="415.88" y="415.6" text-anchor="middle">50</text>
<text x="529.00" y="415.6" text-anchor="middle">100</text>
<text x="70.2" y="398.00" text-anchor="end">0</text>
<text x="70.2" y="302.88" text-anchor="end">0.2</text>
<text x="70.2" y="207.75" text-anchor="end">0.4</text>
<text x="70.2" y="112.63" text-anchor="end">0.6</text>
<text x="70.2" y="17.50" text-anchor="end">0.8</text>
</g>
<text x="302.6" y="445" text-anchor="middle" font-family="Liberation Serif, Times New Roman, serif" font-style="italic" font-size="30">x</text>
<g transform="translate(24.5 218.6) rotate(-90)"><text x="0" y="0" font-family="Liberation Serif, Times New Roman, serif" font-size="30"><tspan font-style="italic">&#952;</tspan><tspan font-size="15.3" dy="7.3" dx="1">CL</tspan></text></g>
<g font-family="Liberation Serif, Times New Roman, serif" font-size="24" fill="#000">
<text transform="translate(152.0 143.4) scale(1 1.05)">V-GP</text>
<text transform="translate(123.3 271.6) scale(1 1.05)">GP</text>
<text transform="translate(432.5 219.1) scale(1 1.05)">CP</text>
<text transform="translate(381.4 347.8) scale(1 1.06)">AP</text>
</g>
</svg>
</body></html>
